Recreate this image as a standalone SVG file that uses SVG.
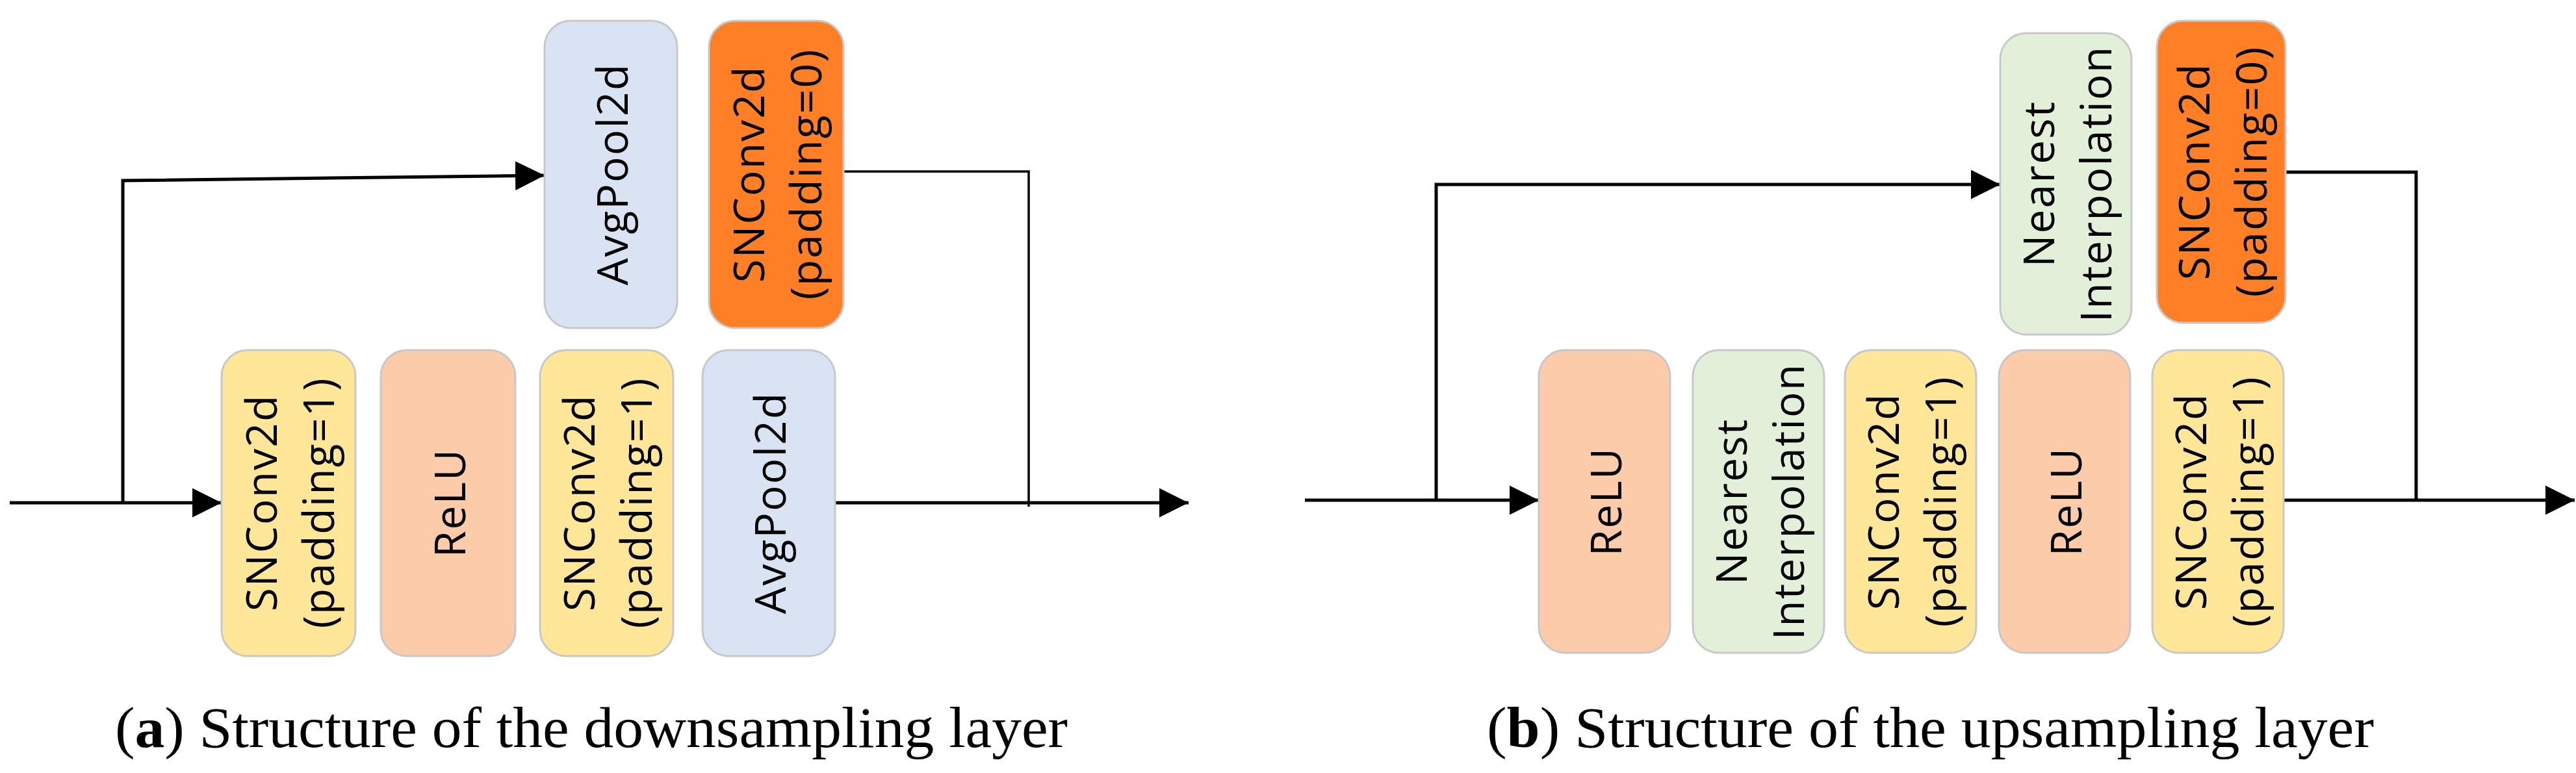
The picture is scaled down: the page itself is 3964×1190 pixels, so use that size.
<svg xmlns="http://www.w3.org/2000/svg" width="3964" height="1190" viewBox="0 0 3964 1190">
<style>
.b{stroke:#c8c8c8;stroke-width:3}
.y{fill:#FFE699}.r{fill:#FBCBAA}.bl{fill:#DAE3F3}.g{fill:#E2F0D9}.o{fill:#FF7F27}
.t{font-family:"Open Sans","DejaVu Sans",sans-serif;font-size:66px;fill:#000;text-anchor:middle;dominant-baseline:central;letter-spacing:2px}
.c{font-family:"Liberation Serif",serif;font-size:88px;fill:#000}
.l{fill:none;stroke:#000;stroke-width:5}
.l2{fill:none;stroke:#000;stroke-width:3.5}
</style>
<defs>
<marker id="ah" viewBox="0 0 10 10" refX="10" refY="5" markerWidth="9" markerHeight="8" markerUnits="userSpaceOnUse" orient="auto" style="overflow:visible">
<path d="M0,0 L10,5 L0,10 z" fill="#000"/>
</marker>
<marker id="a" viewBox="0 0 10 10" refX="10" refY="5" markerWidth="9" markerHeight="11" orient="auto">
<path d="M0,0 L10,5 L0,10 z" fill="#000"/>
</marker>
</defs>
<g id="connectors">
<path class="l" d="M15,774 H341" marker-end="url(#a)"/>
<path class="l" d="M189,774 V278 L838,270" marker-end="url(#a)"/>
<path class="l" d="M1285,774 H1829" marker-end="url(#a)"/>
<path class="l2" d="M1292,264 H1583 V780"/>
<path class="l" d="M2008,770 H2368" marker-end="url(#a)"/>
<path class="l" d="M2210,770 V284 H3078" marker-end="url(#a)"/>
<path class="l" d="M3514,770 H3962" marker-end="url(#a)"/>
<path class="l" d="M3517,265 H3718 V770"/>
</g>
<g id="a_avgpool_top"><rect class="b bl" x="838" y="32" width="204" height="473" rx="40"/><text class="t" transform="translate(940,268) rotate(-90)">AvgPool2d</text></g>
<g id="a_snconv_top"><rect class="b o" x="1091" y="32" width="207" height="473" rx="40"/><text class="t" transform="translate(1194,268) rotate(-90)"><tspan x="0" dy="-44">SNConv2d</tspan><tspan x="0" dy="88">(padding=0)</tspan></text></g>
<g id="a_snconv1"><rect class="b y" x="341" y="539" width="206" height="471" rx="40"/><text class="t" transform="translate(444,774) rotate(-90)"><tspan x="0" dy="-44">SNConv2d</tspan><tspan x="0" dy="88">(padding=1)</tspan></text></g>
<g id="a_relu"><rect class="b r" x="586" y="539" width="207" height="471" rx="40"/><text class="t" transform="translate(690,774) rotate(-90)">ReLU</text></g>
<g id="a_snconv2"><rect class="b y" x="831" y="539" width="205" height="471" rx="40"/><text class="t" transform="translate(933,774) rotate(-90)"><tspan x="0" dy="-44">SNConv2d</tspan><tspan x="0" dy="88">(padding=1)</tspan></text></g>
<g id="a_avgpool"><rect class="b bl" x="1081" y="539" width="204" height="471" rx="40"/><text class="t" transform="translate(1183,774) rotate(-90)">AvgPool2d</text></g>
<g id="b_nearest_top"><rect class="b g" x="3078" y="51" width="202" height="464" rx="40"/><text class="t" transform="translate(3179,283) rotate(-90)"><tspan x="0" dy="-44">Nearest</tspan><tspan x="0" dy="88">Interpolation</tspan></text></g>
<g id="b_snconv_top"><rect class="b o" x="3319" y="32" width="198" height="465" rx="40"/><text class="t" transform="translate(3418,264) rotate(-90)"><tspan x="0" dy="-44">SNConv2d</tspan><tspan x="0" dy="88">(padding=0)</tspan></text></g>
<g id="b_relu1"><rect class="b r" x="2368" y="539" width="202" height="466" rx="40"/><text class="t" transform="translate(2469,772) rotate(-90)">ReLU</text></g>
<g id="b_nearest"><rect class="b g" x="2605" y="539" width="202" height="466" rx="40"/><text class="t" transform="translate(2706,772) rotate(-90)"><tspan x="0" dy="-44">Nearest</tspan><tspan x="0" dy="88">Interpolation</tspan></text></g>
<g id="b_snconv1"><rect class="b y" x="2839" y="539" width="202" height="466" rx="40"/><text class="t" transform="translate(2940,772) rotate(-90)"><tspan x="0" dy="-44">SNConv2d</tspan><tspan x="0" dy="88">(padding=1)</tspan></text></g>
<g id="b_relu2"><rect class="b r" x="3076" y="539" width="202" height="466" rx="40"/><text class="t" transform="translate(3177,772) rotate(-90)">ReLU</text></g>
<g id="b_snconv2"><rect class="b y" x="3312" y="539" width="202" height="466" rx="40"/><text class="t" transform="translate(3413,772) rotate(-90)"><tspan x="0" dy="-44">SNConv2d</tspan><tspan x="0" dy="88">(padding=1)</tspan></text></g>
<text class="c" x="177" y="1150" textLength="1466" lengthAdjust="spacingAndGlyphs">(<tspan font-weight="bold">a</tspan>) Structure of the downsampling layer</text>
<text class="c" x="2288" y="1150" textLength="1365" lengthAdjust="spacingAndGlyphs">(<tspan font-weight="bold">b</tspan>) Structure of the upsampling layer</text>
</svg>
